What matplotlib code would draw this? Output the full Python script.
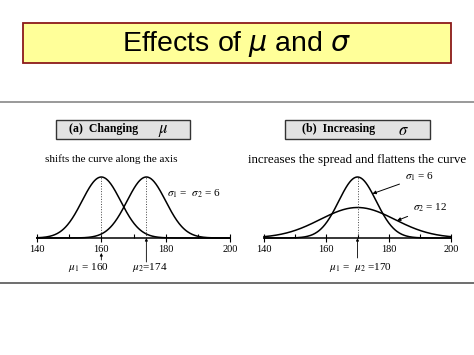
import numpy as np
import matplotlib
matplotlib.use("Agg")
import matplotlib.pyplot as plt
from matplotlib.patches import Rectangle
from matplotlib.lines import Line2D

plt.rcParams['mathtext.fontset'] = 'stix'

W, H = 474, 355

# data
x_range = (140, 200)
major_ticks = [140, 160, 180, 200]
minor_ticks = [150, 170, 190]
# panel (a): changing mu
mu_a = [160, 174]
sigma_a = [6, 6]
# panel (b): increasing sigma
mu_b = [170, 170]
sigma_b = [6, 12]


def pdf(x, mu, s):
    return np.exp(-0.5 * ((x - mu) / s) ** 2) / (s * np.sqrt(2 * np.pi))


def fx(px):
    return px / W


def fy(py):
    return 1 - py / H


fig = plt.figure(figsize=(W / 100, H / 100), dpi=100)
fig.patch.set_facecolor('white')

# title box
fig.patches.append(Rectangle((fx(23), fy(63)), fx(451) - fx(23), fy(23) - fy(63),
                             transform=fig.transFigure, facecolor='#ffff99',
                             edgecolor='#8b1a1a', lw=1.3))
fig.text(fx(237), fy(44), r'Effects of $\mu$ and $\sigma$', ha='center', va='center',
         fontsize=20.5, family='Liberation Sans', math_fontfamily='dejavusans')

# separator lines
fig.lines.append(Line2D([0, 1], [fy(102), fy(102)], transform=fig.transFigure,
                        color='#888888', lw=1.2))
fig.lines.append(Line2D([0, 1], [fy(283), fy(283)], transform=fig.transFigure,
                        color='#555555', lw=1.2))

serif = 'Liberation Serif'

# panel header boxes
for (x0, x1, lab, sym, off) in [(56, 190, '(a)  Changing', r'$\mu$', 13),
                                (285, 430, '(b)  Increasing', r'$\sigma$', 17)]:
    fig.patches.append(Rectangle((fx(x0), fy(139)), fx(x1) - fx(x0), fy(120) - fy(139),
                                 transform=fig.transFigure, facecolor='#e2e2e2',
                                 edgecolor='#333333', lw=1.0))
    fig.text(fx(x0 + off), fy(129.5), lab, ha='left', va='center', fontsize=8.5,
             family=serif, weight='bold')
    fig.text(fx(x1 - 27), fy(130), sym, ha='center', va='center', fontsize=12)

fig.text(fx(111), fy(159), 'shifts the curve along the axis', ha='center', va='center',
         fontsize=8, family=serif)
fig.text(fx(357), fy(159.5), 'increases the spread and flattens the curve', ha='center',
         va='center', fontsize=9.4, family=serif)

ytop = 0.08
hpx = 61 * ytop / pdf(0, 0, 6)


def make_axes(left, right):
    ax = fig.add_axes([fx(left), fy(238), fx(right) - fx(left), hpx / H])
    ax.set_xlim(*x_range)
    ax.set_ylim(0, ytop)
    for s in ['top', 'left', 'right']:
        ax.spines[s].set_visible(False)
    ax.spines['bottom'].set_linewidth(1.1)
    ax.set_yticks([])
    ax.set_xticks(major_ticks)
    ax.set_xticks(minor_ticks, minor=True)
    ax.tick_params(axis='x', which='major', direction='inout', length=6, width=0.8,
                   labelsize=7.5, pad=2)
    ax.tick_params(axis='x', which='minor', direction='in', length=3, width=0.8)
    for t in ax.get_xticklabels():
        t.set_family(serif)
    ax.patch.set_alpha(0)
    return ax


x = np.linspace(x_range[0], x_range[1], 400)
arrow_up = dict(arrowstyle='-|>', lw=0.6, color='black', mutation_scale=4,
                shrinkA=0, shrinkB=0)
pix = ('data', 'axes pixels')

# panel (a)
ax = make_axes(37, 230)
for m, s in zip(mu_a, sigma_a):
    ax.plot(x, pdf(x, m, s), color='black', lw=1.1, clip_on=False)
    ax.vlines(m, 0, pdf(m, m, s), colors='#444444', linestyles=':', lw=0.7)
ax.text(188.7, pdf(0, 0, 6) * 0.72, r'$\sigma_1$ =  $\sigma_2$ = 6', ha='center',
        va='center', fontsize=8, family=serif)
ax.annotate('', xy=(mu_a[0], -15), xytext=(mu_a[0], -22), xycoords=pix,
            textcoords=pix, arrowprops=arrow_up)
ax.annotate('', xy=(mu_a[1], 0), xytext=(mu_a[1], -24), xycoords=pix,
            textcoords=pix, arrowprops=arrow_up)
ax.annotate(r'$\mu_1$ = %d' % mu_a[0], xy=(155.9, -30), xycoords=pix,
            ha='center', va='center', fontsize=8, family=serif)
ax.annotate(r'$\mu_2$=%d' % mu_a[1], xy=(175.1, -30), xycoords=pix,
            ha='center', va='center', fontsize=8, family=serif)

# panel (b)
ax = make_axes(264, 451)
for m, s in zip(mu_b, sigma_b):
    ax.plot(x, pdf(x, m, s), color='black', lw=1.1, clip_on=False)
ax.vlines(mu_b[0], 0, pdf(0, 0, sigma_b[0]), colors='#444444', linestyles=':', lw=0.7)
ax.annotate('', xy=(mu_b[0], 0), xytext=(mu_b[0], -20), xycoords=pix,
            textcoords=pix, arrowprops=arrow_up)
ax.annotate(r'$\mu_1$ =  $\mu_2$ =%d' % mu_b[0], xy=(170.8, -30), xycoords=pix,
            ha='center', va='center', fontsize=8, family=serif)
ax.annotate(r'$\sigma_1$ = %d' % sigma_b[0], xy=(174.8, pdf(174.8, mu_b[0], sigma_b[0])),
            xytext=(185.2, pdf(0, 0, 6)), ha='left', va='center', fontsize=8,
            family=serif,
            arrowprops=dict(arrowstyle='-|>', lw=0.7, color='black', mutation_scale=5,
                            shrinkA=2, shrinkB=0))
ax.annotate(r'$\sigma_2$ = %d' % sigma_b[1], xy=(182.7, pdf(182.7, mu_b[1], sigma_b[1])),
            xytext=(187.8, pdf(0, 0, 12)), ha='left', va='center', fontsize=8,
            family=serif,
            arrowprops=dict(arrowstyle='-|>', lw=0.7, color='black', mutation_scale=5,
                            shrinkA=2, shrinkB=0))

fig.savefig('out.png', dpi=100)
